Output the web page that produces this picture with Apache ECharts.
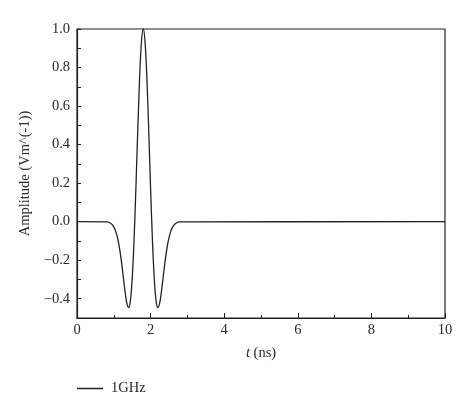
<!DOCTYPE html>
<html>
<head>
<meta charset="utf-8">
<script src="https://cdn.jsdelivr.net/npm/echarts@6/dist/echarts.min.js"></script>
<style>
    html, body { margin: 0; padding: 0; background: #fff; }
    #chart { width: 474px; height: 412px; }
</style>
</head>
<body>
<div id="chart"></div>
<script>
// values (t in ns, amplitude)
const timeNs = [
    0, 0.8, 0.85, 0.9, 0.95, 1.0, 1.05, 1.1, 1.15, 1.2, 1.25, 1.3, 1.35, 1.4, 1.45, 1.5, 1.55, 1.6, 1.65, 1.7, 1.75,
    1.8, 1.85, 1.9, 1.95, 2.0, 2.05, 2.1, 2.15, 2.2, 2.25, 2.3, 2.35, 2.4, 2.45, 2.5, 2.55, 2.6, 2.65, 2.7, 2.75, 2.8, 10
];
const amplitude = [
    0, -0.001, -0.003, -0.007, -0.014, -0.027, -0.049, -0.083, -0.132, -0.196, -0.274, -0.354, -0.419, -0.446, -0.412, -0.296, -0.096, 0.171, 0.468, 0.740, 0.931,
    1.0, 0.931, 0.740, 0.468, 0.171, -0.096, -0.296, -0.412, -0.446, -0.419, -0.354, -0.274, -0.196, -0.132, -0.083, -0.049, -0.027, -0.014, -0.007, -0.003, -0.001, 0
];
const seriesName = "1GHz";

const textColor = "#2a2a2a";
const lineColor = "#222";
const fontFamily = "'Liberation Serif', 'DejaVu Serif', serif";

const chart = echarts.init(document.getElementById("chart"));
chart.setOption({
    animation: false,
    textStyle: { fontFamily: fontFamily, color: textColor },
    grid: {
        left: 77,
        right: 29,
        top: 29,
        bottom: 94,
        show: true,
        borderColor: lineColor,
        borderWidth: 1.2,
        containLabel: false
    },
    legend: {
        left: 72,
        top: 376,
        data: [seriesName],
        icon: "rect",
        itemWidth: 26,
        itemHeight: 1.5,
        itemGap: 10,
        textStyle: { fontFamily: fontFamily, fontSize: 14.5, color: textColor, padding: [0, 0, 0, 3] }
    },
    xAxis: {
        type: "value",
        min: 0,
        max: 10,
        interval: 2,
        name: "{i|t} (ns)",
        nameLocation: "middle",
        nameGap: 28,
        nameTextStyle: {
            fontFamily: fontFamily,
            fontSize: 14.5,
            color: textColor,
            rich: {
                i: { fontStyle: "italic", fontFamily: fontFamily, fontSize: 14.5, color: textColor }
            }
        },
        axisLine: { show: true, onZero: false, lineStyle: { color: lineColor, width: 1.2 } },
        axisTick: { show: true, inside: true, length: 5, lineStyle: { color: lineColor } },
        minorTick: { show: true, splitNumber: 2, length: 3, lineStyle: { color: lineColor } },
        axisLabel: { fontSize: 14.5, color: textColor, margin: 5 },
        splitLine: { show: false }
    },
    yAxis: {
        type: "value",
        min: -0.5,
        max: 1.0,
        interval: 0.1,
        name: "Amplitude (Vm^(-1))",
        nameLocation: "middle",
        nameGap: 42,
        nameTextStyle: { fontFamily: fontFamily, fontSize: 14.5, color: textColor },
        axisLine: { show: true, onZero: false, lineStyle: { color: lineColor, width: 1.2 } },
        axisTick: { show: true, inside: true, length: 4, lineStyle: { color: lineColor } },
        axisLabel: {
            fontSize: 14.5,
            color: textColor,
            margin: 7,
            formatter: v => {
                const r = Math.round(v * 10);
                if (r % 2 !== 0 || r === -5) return "";
                return (r / 10).toFixed(1).replace("-", "\u2212");
            }
        },
        splitLine: { show: false }
    },
    series: [
        {
            name: seriesName,
            type: "line",
            data: timeNs.map((t, i) => [t, amplitude[i]]),
            smooth: 0.3,
            showSymbol: false,
            lineStyle: { color: lineColor, width: 1.3 },
            itemStyle: { color: lineColor }
        }
    ]
});
</script>
</body>
</html>
